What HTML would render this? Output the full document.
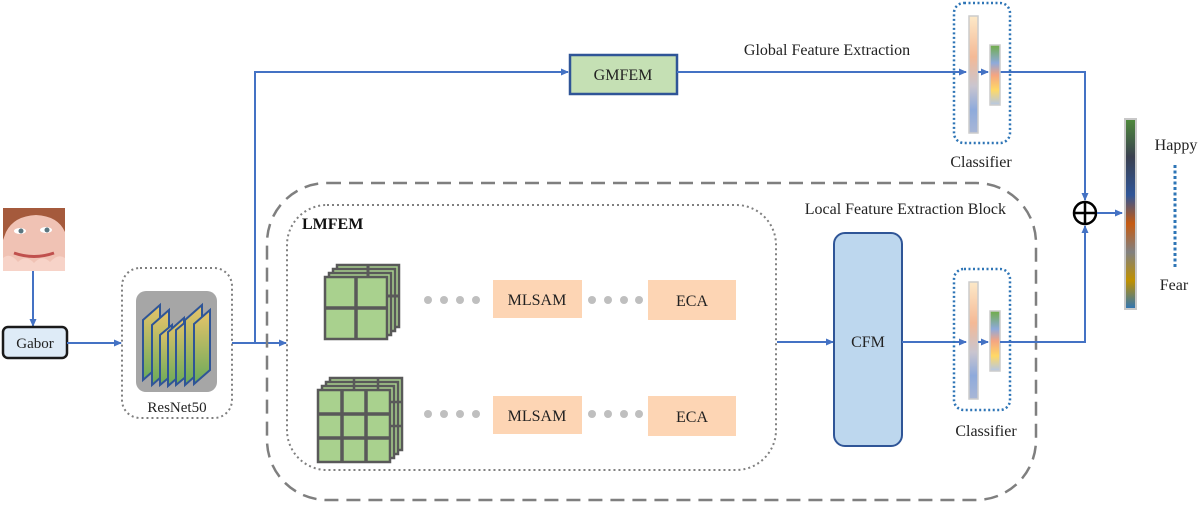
<!DOCTYPE html>
<html><head><meta charset="utf-8"><style>
html,body{margin:0;padding:0;background:#fff;}
svg{display:block;}
text{font-family:"Liberation Serif","DejaVu Serif",serif;}
</style></head><body>
<svg width="1200" height="509" viewBox="0 0 1200 509" xmlns="http://www.w3.org/2000/svg" font-family="'Liberation Serif', 'DejaVu Serif', serif">
<defs>
<marker id="ar" markerWidth="8" markerHeight="8" refX="7" refY="4" orient="auto" markerUnits="userSpaceOnUse">
<path d="M0,0.5 L8,4 L0,7.5 z" fill="#4472c4"/></marker>
<linearGradient id="g1" x1="0" y1="0" x2="0" y2="1">
<stop offset="0" stop-color="#fde9c8"/><stop offset="0.35" stop-color="#f4b996"/><stop offset="0.6" stop-color="#c9c5cf"/><stop offset="0.8" stop-color="#8eaadb"/><stop offset="1" stop-color="#a8b6d6"/></linearGradient>
<linearGradient id="g2" x1="0" y1="0" x2="0" y2="1">
<stop offset="0" stop-color="#70ad47"/><stop offset="0.3" stop-color="#8eaadb"/><stop offset="0.5" stop-color="#f4a582"/><stop offset="0.75" stop-color="#ffd966"/><stop offset="1" stop-color="#b4c7e7"/></linearGradient>
<linearGradient id="g3" x1="0" y1="0" x2="0" y2="1">
<stop offset="0" stop-color="#4e8a3a"/><stop offset="0.2" stop-color="#3a3f4f"/><stop offset="0.4" stop-color="#2f5597"/><stop offset="0.55" stop-color="#c55a11"/><stop offset="0.7" stop-color="#808080"/><stop offset="0.85" stop-color="#bf9000"/><stop offset="1" stop-color="#2e75b6"/></linearGradient>
<linearGradient id="gp" x1="0" y1="0" x2="0" y2="1">
<stop offset="0" stop-color="#e8c46a"/><stop offset="1" stop-color="#6aaa5a"/></linearGradient>
</defs>

<!-- face -->
<rect x="3" y="208" width="62" height="63" fill="#f0c2b4"/>
<path d="M3,208 H65 V232 Q58,216 36,215 Q14,216 6,232 L3,240 Z" fill="#a55a3c"/>
<ellipse cx="20" cy="231" rx="6" ry="3" fill="#fff"/><circle cx="21" cy="231" r="2.5" fill="#5a7680"/>
<ellipse cx="46" cy="230" rx="6" ry="3" fill="#fff"/><circle cx="47" cy="230" r="2.5" fill="#5a7680"/>
<path d="M14,253 Q34,260 54,253" stroke="#c0504d" stroke-width="3" fill="none"/>
<path d="M3,258 Q10,252 18,262 Q26,254 34,263 Q42,254 50,262 Q58,253 65,258 V271 H3 Z" fill="#f7d3c8"/>

<line x1="33" y1="271" x2="33" y2="326" stroke="#4472c4" stroke-width="2" marker-end="url(#ar)"/>
<rect x="3" y="327" width="64" height="31" rx="5" fill="#deebf7" stroke="#1a1a1a" stroke-width="2.5"/>
<text x="35" y="348" font-size="15" text-anchor="middle" fill="#222">Gabor</text>
<line x1="67" y1="343" x2="121" y2="343" stroke="#4472c4" stroke-width="2" marker-end="url(#ar)"/>

<!-- ResNet -->
<rect x="122" y="268" width="110" height="150" rx="18" fill="none" stroke="#7f7f7f" stroke-width="2" stroke-dasharray="2,3"/>
<rect x="136" y="291" width="81" height="101" rx="10" fill="#a6a6a6"/>
<g stroke="#2f5597" stroke-width="2" fill="url(#gp)">
<path d="M143,320 L160,305 V365 L143,380 Z"/>
<path d="M152,325 L169,310 V370 L152,385 Z"/>
<path d="M160,335 L172,325 V375 L160,385 Z"/>
<path d="M168,332 L184,318 V372 L168,386 Z"/>
<path d="M176,330 L194,315 V370 L176,385 Z"/>
<path d="M185,320 L202,305 V370 L185,385 Z"/>
<path d="M194,324 L210,310 V370 L194,384 Z"/>
</g>
<text x="177" y="412" font-size="15" text-anchor="middle" fill="#222">ResNet50</text>

<line x1="232" y1="343" x2="286" y2="343" stroke="#4472c4" stroke-width="2" marker-end="url(#ar)"/>
<polyline points="255,343 255,72 568,72" fill="none" stroke="#4472c4" stroke-width="2" marker-end="url(#ar)"/>
<rect x="570" y="55" width="107" height="39" fill="#c5e0b4" stroke="#2f5597" stroke-width="2.5"/>
<text x="623" y="80" font-size="16" text-anchor="middle" fill="#222">GMFEM</text>
<text x="827" y="55" font-size="16" text-anchor="middle" fill="#222">Global Feature Extraction</text>
<line x1="677" y1="72" x2="966" y2="72" stroke="#4472c4" stroke-width="2" marker-end="url(#ar)"/>
<polyline points="1000,72 1085,72 1085,200" fill="none" stroke="#4472c4" stroke-width="2" marker-end="url(#ar)"/>

<rect x="954" y="3" width="56" height="140" rx="10" fill="none" stroke="#2e75b6" stroke-width="2.5" stroke-dasharray="2,2.5"/>
<rect x="969" y="16" width="9" height="117" fill="url(#g1)" stroke="#ccc" stroke-width="1.5"/>
<rect x="990" y="45" width="10" height="60" fill="url(#g2)" stroke="#ccc" stroke-width="1.5"/>
<line x1="978" y1="72" x2="988" y2="72" stroke="#4472c4" stroke-width="2" marker-end="url(#ar)"/>
<text x="981" y="167" font-size="16" text-anchor="middle" fill="#222">Classifier</text>

<rect x="267" y="183" width="769" height="317" rx="60" fill="none" stroke="#7f7f7f" stroke-width="2.5" stroke-dasharray="14,8"/>
<text x="1006" y="214" font-size="16" text-anchor="end" fill="#222">Local Feature Extraction Block</text>
<rect x="287" y="205" width="489" height="265" rx="40" fill="none" stroke="#808080" stroke-width="2" stroke-dasharray="2,3"/>
<text x="302" y="229" font-size="16" font-weight="bold" fill="#111">LMFEM</text>

<!-- cube 2x2 -->
<g stroke="#595959" stroke-width="2.5" fill="#a9d18e">
<rect x="337" y="265" width="62" height="62"/>
<rect x="333" y="269" width="62" height="62"/>
<rect x="329" y="273" width="62" height="62"/>
<rect x="325" y="277" width="62" height="62"/>
<line x1="356" y1="277" x2="356" y2="339" stroke-width="3.5"/>
<line x1="325" y1="308" x2="387" y2="308" stroke-width="3.5"/>
<line x1="368" y1="265" x2="368" y2="277" stroke-width="3"/>
<line x1="387" y1="296" x2="399" y2="296" stroke-width="3"/>
</g>
<!-- cube 3x3 -->
<g stroke="#595959" stroke-width="2.5" fill="#a9d18e">
<rect x="330" y="378" width="72" height="72"/>
<rect x="326" y="382" width="72" height="72"/>
<rect x="322" y="386" width="72" height="72"/>
<rect x="318" y="390" width="72" height="72"/>
<line x1="342" y1="390" x2="342" y2="462" stroke-width="3.5"/><line x1="366" y1="390" x2="366" y2="462" stroke-width="3.5"/>
<line x1="318" y1="414" x2="390" y2="414" stroke-width="3.5"/><line x1="318" y1="438" x2="390" y2="438" stroke-width="3.5"/>
<line x1="354" y1="378" x2="354" y2="390"/><line x1="378" y1="378" x2="378" y2="390"/>
<line x1="390" y1="402" x2="402" y2="402"/><line x1="390" y1="426" x2="402" y2="426"/>
</g>

<g fill="#bfbfbf">
<circle cx="428" cy="300" r="4"/><circle cx="444" cy="300" r="4"/><circle cx="460" cy="300" r="4"/><circle cx="476" cy="300" r="4"/>
<circle cx="592" cy="300" r="4"/><circle cx="608" cy="300" r="4"/><circle cx="624" cy="300" r="4"/><circle cx="639" cy="300" r="4"/>
<circle cx="428" cy="414" r="4"/><circle cx="444" cy="414" r="4"/><circle cx="460" cy="414" r="4"/><circle cx="476" cy="414" r="4"/>
<circle cx="592" cy="414" r="4"/><circle cx="608" cy="414" r="4"/><circle cx="624" cy="414" r="4"/><circle cx="639" cy="414" r="4"/>
</g>
<rect x="493" y="280" width="89" height="38" fill="#fdd5b4"/>
<text x="537" y="305" font-size="16" text-anchor="middle" fill="#222">MLSAM</text>
<rect x="648" y="280" width="88" height="40" fill="#fdd5b4"/>
<text x="692" y="306" font-size="16" text-anchor="middle" fill="#222">ECA</text>
<rect x="493" y="396" width="89" height="38" fill="#fdd5b4"/>
<text x="537" y="421" font-size="16" text-anchor="middle" fill="#222">MLSAM</text>
<rect x="648" y="396" width="88" height="40" fill="#fdd5b4"/>
<text x="692" y="422" font-size="16" text-anchor="middle" fill="#222">ECA</text>

<line x1="777" y1="342" x2="833" y2="342" stroke="#4472c4" stroke-width="2" marker-end="url(#ar)"/>
<rect x="834" y="233" width="68" height="213" rx="11" fill="#bdd7ee" stroke="#2f5597" stroke-width="2"/>
<text x="868" y="347" font-size="16" text-anchor="middle" fill="#222">CFM</text>
<line x1="902" y1="342" x2="966" y2="342" stroke="#4472c4" stroke-width="2" marker-end="url(#ar)"/>

<rect x="954" y="269" width="56" height="141" rx="10" fill="none" stroke="#2e75b6" stroke-width="2.5" stroke-dasharray="2,2.5"/>
<rect x="969" y="282" width="9" height="117" fill="url(#g1)" stroke="#ccc" stroke-width="1.5"/>
<rect x="990" y="311" width="10" height="60" fill="url(#g2)" stroke="#ccc" stroke-width="1.5"/>
<line x1="978" y1="342" x2="988" y2="342" stroke="#4472c4" stroke-width="2" marker-end="url(#ar)"/>
<text x="986" y="436" font-size="16" text-anchor="middle" fill="#222">Classifier</text>
<polyline points="1000,342 1085,342 1085,226" fill="none" stroke="#4472c4" stroke-width="2" marker-end="url(#ar)"/>

<circle cx="1085" cy="213" r="11" fill="#fff" stroke="#000" stroke-width="2.5"/>
<line x1="1074" y1="213" x2="1096" y2="213" stroke="#000" stroke-width="2.5"/>
<line x1="1085" y1="202" x2="1085" y2="224" stroke="#000" stroke-width="2.5"/>
<line x1="1097" y1="213" x2="1122" y2="213" stroke="#4472c4" stroke-width="2" marker-end="url(#ar)"/>
<rect x="1125" y="119" width="11" height="190" fill="url(#g3)" stroke="#c8c8c8" stroke-width="2"/>
<text x="1176" y="150" font-size="16" text-anchor="middle" fill="#222">Happy</text>
<line x1="1175" y1="165" x2="1175" y2="267" stroke="#2e75b6" stroke-width="3" stroke-dasharray="3,2.5"/>
<text x="1174" y="290" font-size="16" text-anchor="middle" fill="#222">Fear</text>
</svg>
</body></html>
